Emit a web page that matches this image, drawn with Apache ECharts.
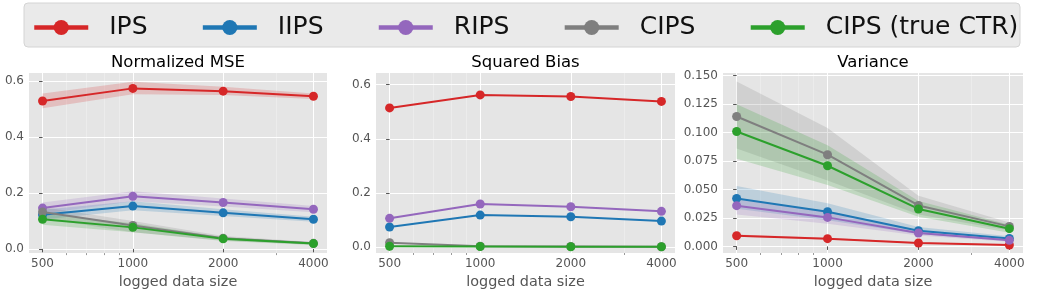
<!DOCTYPE html>
<html>
<head>
<meta charset="utf-8">
<script src="https://cdn.jsdelivr.net/npm/echarts@6/dist/echarts.min.js"></script>
<style>
  html, body { margin: 0; padding: 0; background: #fff; }
  #chart { width: 1037px; height: 294px; }
</style>
</head>
<body>
<div id="chart"></div>
<script>
const sizes = [500, 1000, 2000, 4000];
const minorSizes = [600, 700, 800, 900, 3000];
const estimators = ['IPS', 'IIPS', 'RIPS', 'CIPS', 'CIPS (true CTR)'];
const panelTitles = ['Normalized MSE', 'Squared Bias', 'Variance'];

// normalized mse: mean, lower, upper of the band
const mseIPS = [0.529, 0.574, 0.564, 0.546];
const mseIPSLo = [0.503, 0.553, 0.550, 0.536];
const mseIPSHi = [0.556, 0.598, 0.580, 0.556];
const mseIIPS = [0.122, 0.153, 0.129, 0.106];
const mseIIPSLo = [0.105, 0.138, 0.118, 0.097];
const mseIIPSHi = [0.140, 0.170, 0.142, 0.115];
const mseRIPS = [0.146, 0.188, 0.166, 0.142];
const mseRIPSLo = [0.126, 0.170, 0.152, 0.131];
const mseRIPSHi = [0.166, 0.206, 0.180, 0.153];
const mseCIPS = [0.132, 0.084, 0.038, 0.020];
const mseCIPSLo = [0.110, 0.060, 0.030, 0.015];
const mseCIPSHi = [0.150, 0.100, 0.046, 0.025];
const mseTrue = [0.106, 0.077, 0.036, 0.019];
const mseTrueLo = [0.086, 0.060, 0.028, 0.014];
const mseTrueHi = [0.126, 0.092, 0.042, 0.023];

// squared bias
const biasIPS = [0.514, 0.562, 0.556, 0.538];
const biasIIPS = [0.074, 0.118, 0.112, 0.096];
const biasRIPS = [0.106, 0.159, 0.149, 0.132];
const biasCIPS = [0.016, 0.003, 0.002, 0.001];
const biasTrue = [0.003, 0.002, 0.001, 0.001];

// variance
const varIPS = [0.0094, 0.0068, 0.0030, 0.0012];
const varIPSLo = [0.0085, 0.0060, 0.0025, 0.0009];
const varIPSHi = [0.0104, 0.0077, 0.0036, 0.0016];
const varIIPS = [0.0422, 0.0305, 0.0138, 0.0070];
const varIIPSLo = [0.033, 0.023, 0.011, 0.005];
const varIIPSHi = [0.053, 0.038, 0.017, 0.009];
const varRIPS = [0.0358, 0.0255, 0.0118, 0.0053];
const varRIPSLo = [0.028, 0.020, 0.0095, 0.004];
const varRIPSHi = [0.041, 0.031, 0.014, 0.007];
const varCIPS = [0.1142, 0.0806, 0.0360, 0.0176];
const varCIPSLo = [0.086, 0.058, 0.028, 0.014];
const varCIPSHi = [0.145, 0.104, 0.0446, 0.021];
const varTrue = [0.1010, 0.0709, 0.0329, 0.0156];
const varTrueLo = [0.077, 0.054, 0.026, 0.012];
const varTrueHi = [0.125, 0.089, 0.040, 0.019];

const mseTicks = [0, 0.2, 0.4, 0.6];
const biasTicks = [0, 0.2, 0.4, 0.6];
const varTicks = [0, 0.025, 0.05, 0.075, 0.1, 0.125, 0.15];

const colors = ['#d62728', '#1f77b4', '#9467bd', '#7f7f7f', '#2ca02c'];

// log2 position of a data size, 500 -> 0
const xPos = s => Math.log2(s / 500);

const panels = [
  {
    means: [mseIPS, mseIIPS, mseRIPS, mseCIPS, mseTrue],
    lows: [mseIPSLo, mseIIPSLo, mseRIPSLo, mseCIPSLo, mseTrueLo],
    highs: [mseIPSHi, mseIIPSHi, mseRIPSHi, mseCIPSHi, mseTrueHi],
    ticks: mseTicks, digits: 1, min: -0.015, max: 0.629
  },
  {
    means: [biasIPS, biasIIPS, biasRIPS, biasCIPS, biasTrue],
    lows: null, highs: null,
    ticks: biasTicks, digits: 1, min: -0.022, max: 0.643
  },
  {
    means: [varIPS, varIIPS, varRIPS, varCIPS, varTrue],
    lows: [varIPSLo, varIIPSLo, varRIPSLo, varCIPSLo, varTrueLo],
    highs: [varIPSHi, varIIPSHi, varRIPSHi, varCIPSHi, varTrueHi],
    ticks: varTicks, digits: 3, min: -0.0058, max: 0.1524
  }
];

const grids = [
  { left: 29, top: 73, width: 298, height: 181 },
  { left: 376, top: 73, width: 299, height: 180 },
  { left: 723, top: 73, width: 300, height: 180 }
];

const font = 'DejaVu Sans';
const tickColor = '#555555';

let xAxis = [];
let yAxis = [];
let series = [];
let graphic = [
  {
    type: 'rect', z: -10,
    shape: { x: 24, y: 3, width: 996, height: 44, r: 4 },
    style: { fill: '#EAEAEA', stroke: '#D4D4D4', lineWidth: 1 }
  }
];

grids.forEach((g, p) => {
  g.show = true;
  g.backgroundColor = '#E5E5E5';
  g.borderWidth = 0;
  g.containLabel = false;

  graphic.push({
    type: 'text',
    x: g.left + g.width / 2,
    y: 63,
    style: {
      text: panelTitles[p],
      align: 'center',
      verticalAlign: 'middle',
      fontSize: 16.5,
      fontFamily: font,
      fill: '#000'
    }
  });
});

// major x axes
grids.forEach((g, p) => {
  xAxis.push({
    type: 'value', gridIndex: p, position: 'bottom',
    min: -0.15, max: 3.15,
    name: 'logged data size',
    nameLocation: 'middle',
    nameGap: 16,
    nameTextStyle: { color: tickColor, fontSize: 14.4, fontFamily: font },
    axisLine: { show: false },
    axisTick: { show: true, length: 3.5, lineStyle: { color: tickColor }, customValues: sizes.map(xPos) },
    axisLabel: {
      customValues: sizes.map(xPos),
      formatter: v => String(Math.round(500 * Math.pow(2, v))),
      color: tickColor, fontSize: 12, fontFamily: font, margin: 5
    },
    splitLine: { show: true, lineStyle: { color: '#fff', width: 1 } }
  });
});
// minor x axes (log minor ticks), kept on the bottom edge too
grids.forEach((g, p) => {
  xAxis.push({
    type: 'value', gridIndex: p, position: 'bottom', offset: 0,
    min: -0.15, max: 3.15,
    axisLine: { show: false },
    axisLabel: { show: false },
    axisTick: { show: true, length: 2, lineStyle: { color: tickColor, width: 0.6 }, customValues: minorSizes.map(xPos) },
    splitLine: { show: true, lineStyle: { color: 'rgba(255,255,255,0.45)', width: 0.6 } }
  });
});

panels.forEach((pn, p) => {
  yAxis.push({
    type: 'value', gridIndex: p,
    min: pn.min, max: pn.max,
    axisLine: { show: false },
    axisTick: { show: true, length: 3.5, lineStyle: { color: tickColor }, customValues: pn.ticks },
    axisLabel: {
      customValues: pn.ticks,
      formatter: v => v.toFixed(pn.digits),
      color: tickColor, fontSize: 12, fontFamily: font, margin: 5
    },
    splitLine: { show: true, lineStyle: { color: '#fff', width: 1 } }
  });

  // confidence bands drawn as one polygon per estimator
  if (pn.lows) {
    estimators.forEach((name, i) => {
      const lo = pn.lows[i];
      const hi = pn.highs[i];
      series.push({
        type: 'custom', name: name + ' band',
        xAxisIndex: p, yAxisIndex: p,
        silent: true, z: 1,
        data: sizes.map((s, k) => [xPos(s), lo[k], hi[k]]),
        encode: { x: 0, y: [1, 2] },
        renderItem: (params, api) => {
          if (params.dataIndex !== 0) return;
          const top = sizes.map((s, k) => api.coord([xPos(s), hi[k]]));
          const bottom = sizes.map((s, k) => api.coord([xPos(s), lo[k]])).reverse();
          return {
            type: 'polygon',
            shape: { points: top.concat(bottom) },
            style: { fill: colors[i], opacity: 0.2 }
          };
        }
      });
    });
  }
  estimators.forEach((name, i) => {
    series.push({
      type: 'line', name: name,
      xAxisIndex: p, yAxisIndex: p,
      data: sizes.map((s, k) => [xPos(s), pn.means[i][k]]),
      symbol: 'circle', symbolSize: 9, showSymbol: true,
      lineStyle: { color: colors[i], width: 2 },
      itemStyle: { color: colors[i] },
      z: 3
    });
  });
});

const chart = echarts.init(document.getElementById('chart'), null, { renderer: 'canvas' });
chart.setOption({
  animation: false,
  textStyle: { fontFamily: font },
  grid: grids,
  xAxis: xAxis,
  yAxis: yAxis,
  graphic: graphic,
  legend: {
    data: estimators,
    left: 27, top: 10,
    itemWidth: 54, itemHeight: 19, itemGap: 53,
    lineStyle: { width: 4.5 },
    textStyle: { fontSize: 25, color: '#111', fontFamily: font, padding: [0, 0, 0, 16] }
  },
  series: series
});
</script>
</body>
</html>
